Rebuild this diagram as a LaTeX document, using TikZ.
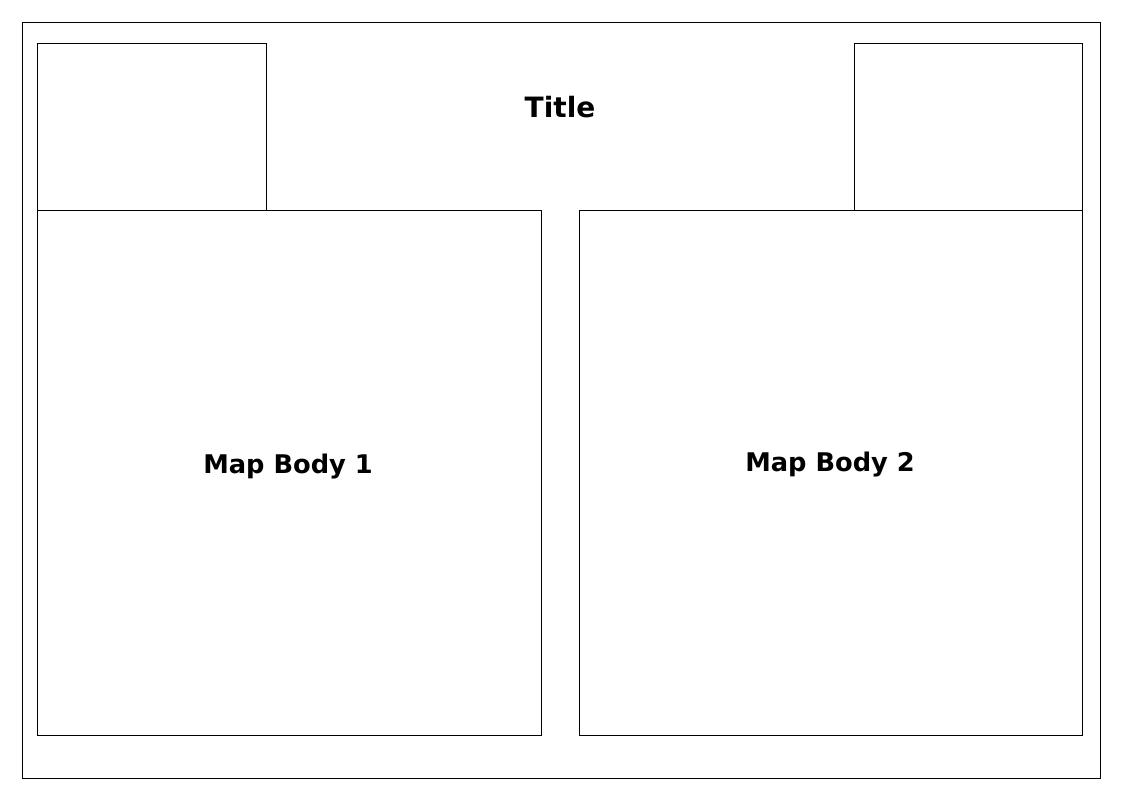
\documentclass[tikz,border=0pt]{standalone}
\usepackage{fontspec}
\setmainfont{DejaVu Sans}
\usetikzlibrary{positioning}
\tikzstyle{kotak} = [rectangle, draw, line width=1pt, inner sep=0pt]
\tikzstyle{judul} = [font=\fontsize{28}{32}\selectfont\bfseries]
\tikzstyle{isi} = [font=\fontsize{25.7}{30}\selectfont\bfseries]

\begin{document}
\begin{tikzpicture}[x=1pt, y=-1pt]
\useasboundingbox (0,0) rectangle (1122,793);
\node [kotak, minimum width=1078pt, minimum height=756pt] (halaman) at (561,400) {};

\node [kotak, minimum width=229pt, minimum height=167pt] (kiri) at (151.5,126.5) {};
\node [kotak, minimum width=228pt, minimum height=167pt] (kanan) at (968,126.5) {};

\node [kotak, minimum width=504pt, minimum height=525pt] (peta1) at (289,472.5) {};
\node [kotak, minimum width=503pt, minimum height=525pt] (peta2) at (830.5,472.5) {};

\node [judul] (title) at (560,107) {Title};
\node [isi] (label1) at (288,467) {Map Body 1};
\node [isi] (label2) at (830,465) {Map Body 2};
\end{tikzpicture}
\end{document}
